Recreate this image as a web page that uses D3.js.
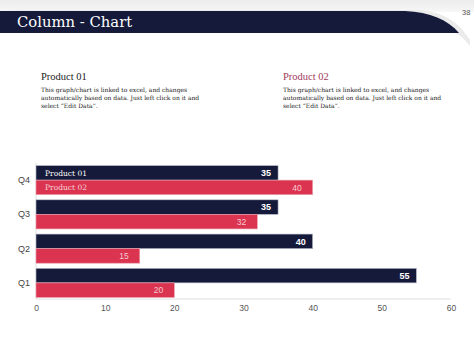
<!DOCTYPE html>
<html><head><meta charset="utf-8">
<script src="https://cdn.jsdelivr.net/npm/d3@7"></script>
<style>body{margin:0;background:#fff;}svg{display:block;}</style>
</head><body>
<script>
const categories = ["Q4","Q3","Q2","Q1"];
const product01 = [35,35,40,55];
const product02 = [40,32,15,20];
const seriesNames = ["Product 01","Product 02"];
const xTicks = [0,10,20,30,40,50,60];
const bodyText = ["This graph/chart is linked to excel, and changes","automatically based on data. Just left click on it and","select \u201cEdit Data\u201d."];

const W=474,H=355;
const navy="#151a3b", red="#db3450";
const serif="DejaVu Serif, serif";
const svg=d3.select("body").append("svg").attr("width",W).attr("height",H);

// header
const defs=svg.append("defs");
const g1=defs.append("linearGradient").attr("id","topg").attr("x1",0).attr("y1",0).attr("x2",0).attr("y2",1);
g1.append("stop").attr("offset","0%").attr("stop-color","#ececec");
g1.append("stop").attr("offset","100%").attr("stop-color","#f7f7f7");
svg.append("rect").attr("x",0).attr("y",0).attr("width",W).attr("height",12).attr("fill","url(#topg)");
svg.append("path").attr("d","M0,10 L420,10 C445,12 460,24 470,40 L470,46 C464,38 460,35 455,33 Z").attr("fill","#ebebeb");
svg.append("path").attr("d","M0,11 L405,11 C430,12 448,20 459,33 L0,33 Z").attr("fill",navy);
svg.append("text").attr("x",17).attr("y",27).attr("fill","#fff").attr("font-family",serif).attr("font-size",14.8).text("Column - Chart");
svg.append("text").attr("x",462).attr("y",15).attr("fill","#555").attr("font-family","Liberation Sans, Arial, sans-serif").attr("font-size",7.5).text("38");

// descriptions
const descX=[41,283], descColor=["#222","#a33a5e"];
seriesNames.forEach((n,i)=>{
  svg.append("text").attr("x",descX[i]).attr("y",80).attr("fill",descColor[i]).attr("font-family","Liberation Serif, serif").attr("font-size",10.5).text(n);
  bodyText.forEach((t,j)=>{
    svg.append("text").attr("x",descX[i]).attr("y",92+j*8).attr("fill","#222").attr("font-family",serif).attr("font-size",6.0).text(t);
  });
});

// chart
const x=d3.scaleLinear().domain([0,60]).range([36,451]);
const y=d3.scaleBand().domain(categories).range([163,300]).paddingInner(0.15).paddingOuter(0.075);
const sub=d3.scaleBand().domain(seriesNames).range([0,y.bandwidth()]);

svg.append("line").attr("x1",x(0)).attr("x2",x(60)).attr("y1",299).attr("y2",299).attr("stroke","#e0e0e0").attr("stroke-width",1);
const xa=svg.append("g").attr("transform","translate(0,299)").call(d3.axisBottom(x).tickValues(xTicks).tickSize(0).tickPadding(6));
xa.select(".domain").remove();
xa.selectAll("text").attr("fill","#555").attr("font-family","Liberation Sans, Arial, sans-serif").attr("font-size",8.5);
svg.append("line").attr("x1",x(0)).attr("x2",x(0)).attr("y1",163).attr("y2",299).attr("stroke","#e0e0e0");

const ya=svg.append("g").attr("transform","translate(30,0)").call(d3.axisLeft(y).tickSize(0).tickPadding(0));
ya.select(".domain").remove();
ya.selectAll("text").attr("fill","#444").attr("font-family","Liberation Sans, Arial, sans-serif").attr("font-size",9);

const data=categories.map((c,i)=>({c,v:[product01[i],product02[i]]}));
const grp=svg.append("g");
data.forEach(d=>{
  seriesNames.forEach((s,k)=>{
    const v=d.v[k];
    const yy=y(d.c)+sub(s);
    grp.append("rect").attr("x",x(0)).attr("y",yy).attr("width",x(v)-x(0)).attr("height",sub.bandwidth())
      .attr("fill",k===0?navy:red).attr("stroke",k===0?"#b9bfcc":"#e9a0ad").attr("stroke-width",0.6);
    grp.append("text").attr("x",x(v)-(k===0?7:11)).attr("y",yy+sub.bandwidth()/2+3.2).attr("text-anchor","end")
      .attr("fill",k===0?"#fff":"#f6c9d1").attr("font-weight",k===0?"bold":"normal")
      .attr("font-family","Liberation Sans, Arial, sans-serif").attr("font-size",k===0?9:8.5).text(v);
  });
});

// legend inside Q4
seriesNames.forEach((s,k)=>{
  svg.append("text").attr("x",45).attr("y",y("Q4")+sub(s)+sub.bandwidth()/2+3)
    .attr("fill",k===0?"#fff":"#f7d3da").attr("font-family",serif).attr("font-size",7.5).text(s);
});
</script>
</body></html>
